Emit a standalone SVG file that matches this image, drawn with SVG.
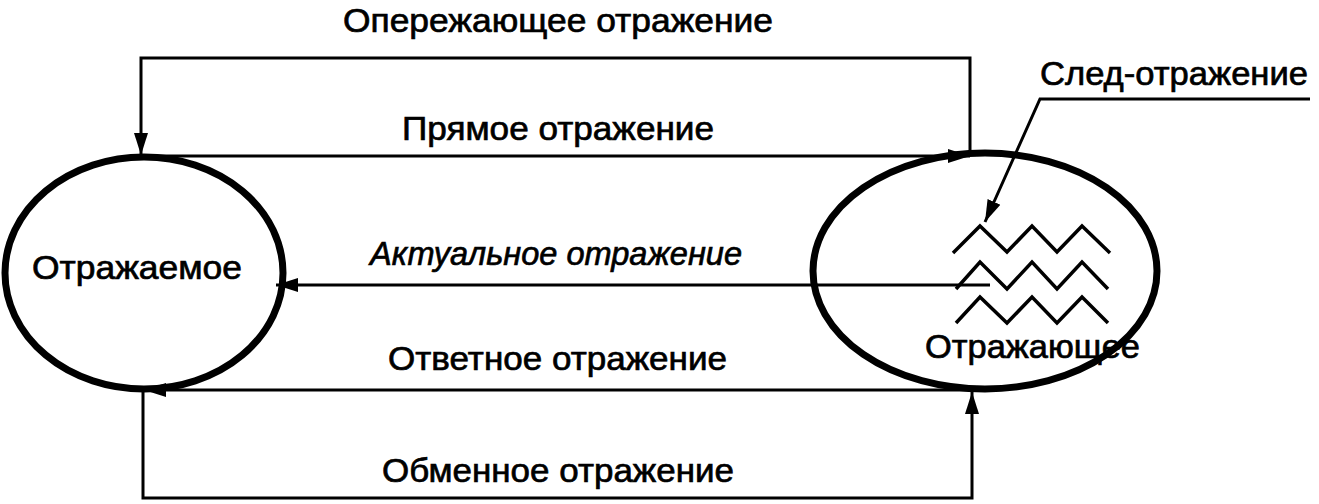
<svg xmlns="http://www.w3.org/2000/svg" width="1319" height="504" viewBox="0 0 1319 504">
<style>
.t{font-family:"Liberation Sans",Arial,sans-serif;font-size:34px;fill:#000;stroke:#000;stroke-width:0.7}
.i{font-style:italic}
.c{fill:none;stroke:#000;stroke-width:3}
.n{fill:none;stroke:#000;stroke-width:7}
.z{fill:none;stroke:#000;stroke-width:3.5;stroke-linejoin:miter}
</style>
<defs>
<marker id="a" markerUnits="userSpaceOnUse" markerWidth="24" markerHeight="16" refX="22" refY="8" orient="auto">
<path d="M0,1 L22,8 L0,15 Z" fill="#000"/>
</marker>
</defs>
<rect width="1319" height="504" fill="#fff"/>
<g id="node-otrazhaemoe">
<ellipse class="n" cx="144" cy="273" rx="139" ry="116"/>
<text class="t" x="32" y="279" textLength="210" lengthAdjust="spacingAndGlyphs">Отражаемое</text>
</g>
<g id="node-otrazhayushchee">
<ellipse class="n" cx="985" cy="271" rx="172" ry="118"/>
<polyline class="z" points="953,253 980,226 1007,252 1032,226 1057,252 1082,226 1110,253"/>
<polyline class="z" points="956,289 980,262 1007,289 1032,262 1057,289 1082,262 1108,289"/>
<polyline class="z" points="956,323 980,297 1007,323 1032,297 1057,323 1082,297 1108,323"/>
<text class="t" x="925" y="358" textLength="215" lengthAdjust="spacingAndGlyphs">Отражающее</text>
</g>
<g id="connectors">
<polyline class="c" points="970,156 970,58 141,58 141,155" marker-end="url(#a)"/>
<line class="c" x1="141" y1="156" x2="970" y2="156" marker-end="url(#a)"/>
<line class="c" x1="990" y1="285" x2="276" y2="285" marker-end="url(#a)"/>
<line class="c" x1="970" y1="390" x2="144" y2="390" marker-end="url(#a)"/>
<polyline class="c" points="143,390 143,498 972,498 972,392" marker-end="url(#a)"/>
<polyline class="c" points="1310,99 1040,99 985,222" marker-end="url(#a)"/>
</g>
<g id="labels">
<text class="t" x="343" y="32" textLength="430" lengthAdjust="spacingAndGlyphs">Опережающее отражение</text>
<text class="t" x="402" y="140" textLength="312" lengthAdjust="spacingAndGlyphs">Прямое отражение</text>
<text class="t i" x="370" y="265" textLength="372" lengthAdjust="spacingAndGlyphs">Актуальное отражение</text>
<text class="t" x="388" y="370" textLength="339" lengthAdjust="spacingAndGlyphs">Ответное отражение</text>
<text class="t" x="382" y="482" textLength="352" lengthAdjust="spacingAndGlyphs">Обменное отражение</text>
<text class="t" x="1040" y="85" textLength="268" lengthAdjust="spacingAndGlyphs">След-отражение</text>
</g>
</svg>
